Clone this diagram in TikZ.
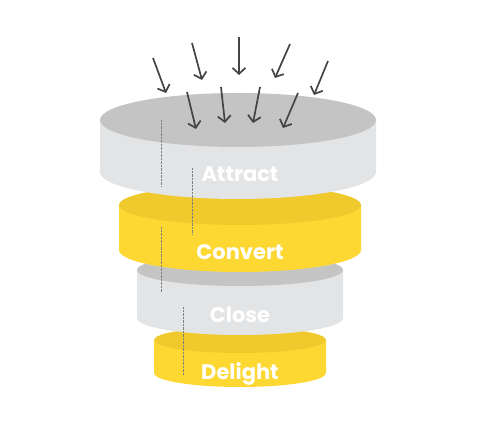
\documentclass[tikz,border=0pt]{standalone}
\usepackage{fontspec}
\usepackage{xcolor}
\usepackage{tikz}
\usetikzlibrary{arrows.meta, positioning, calc}
\newfontfamily\stagefont{Poppins}

\definecolor{greytop}{HTML}{C4C4C4}
\definecolor{greyside}{HTML}{E3E4E6}
\definecolor{yellowtop}{HTML}{F0CA2D}
\definecolor{yellowside}{HTML}{FDD833}
\definecolor{arrowgrey}{HTML}{444444}

\tikzset{
  stage/.style={text=white, font=\stagefont\bfseries\fontsize{21}{21}\selectfont, anchor=base},
  guide/.style={gray, line width=0.7pt, dash pattern=on 0.7pt off 0.7pt},
  inflow/.style={arrowgrey, line width=1.7pt, -{Straight Barb[length=6pt,width=13pt]}}
}

\begin{document}
\begin{tikzpicture}[x=1pt,y=1pt]
      \useasboundingbox (0,0) rectangle (478,435);

      % Delight
      \fill[yellowside] (154,95) -- (154,62) arc[start angle=180,end angle=360,x radius=86,y radius=14] -- (326,95) -- cycle;
      \fill[yellowtop] (240,95) ellipse[x radius=86,y radius=13];

      % Close
      \fill[greyside] (137,165) -- (137,117) arc[start angle=180,end angle=360,x radius=103,y radius=17] -- (343,165) -- cycle;
      \fill[greytop] (240,165) ellipse[x radius=103,y radius=16];

      % Convert
      \fill[yellowside] (119,230) -- (119,185) arc[start angle=180,end angle=360,x radius=121,y radius=22] -- (361,230) -- cycle;
      \fill[yellowtop] (240,230) ellipse[x radius=121,y radius=20];

      % Attract
      \fill[greyside] (100,315) -- (100,263) arc[start angle=180,end angle=360,x radius=138,y radius=27] -- (376,315) -- cycle;
      \fill[greytop] (238,315) ellipse[x radius=138,y radius=27];

      \draw[guide] (161,315) -- (161,248);
      \draw[guide] (192,267) -- (192,200);
      \draw[guide] (161,208) -- (161,143);
      \draw[guide] (183,128) -- (183,60);

      \node[stage] (attract) at (240,253) {Attract};
      \node[stage] (convert) at (240,175) {Convert};
      \node[stage] (close) at (240,112) {Close};
      \node[stage] (delight) at (240,55) {Delight};

      % arrows in
      \draw[inflow] (153,377) -- (166,342);
      \draw[inflow] (192,392) -- (202,355);
      \draw[inflow] (239,398) -- (239,360);
      \draw[inflow] (290,391) -- (275,357);
      \draw[inflow] (328,374) -- (314,340);
      \draw[inflow] (187,343) -- (196,306);
      \draw[inflow] (221,348) -- (225,312);
      \draw[inflow] (260,348) -- (253,312);
      \draw[inflow] (298,342) -- (283,307);
    \end{tikzpicture}
\end{document}
